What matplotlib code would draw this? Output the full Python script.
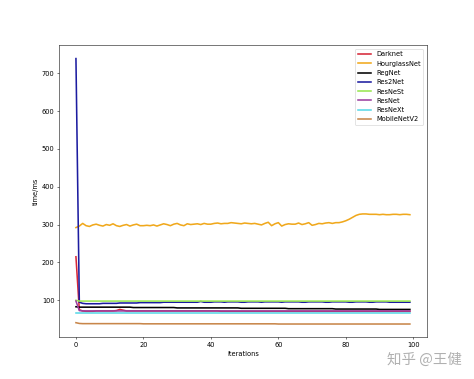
import matplotlib
matplotlib.use("Agg")
import matplotlib.pyplot as plt
import numpy as np

iterations = list(range(100))

darknet = [215, 75, 72, 71, 71, 71, 72, 72, 72, 72,
           72, 72, 73, 76, 74, 72, 72, 72, 72, 72,
           72, 72, 72, 72, 72, 72, 72, 72, 72, 72,
           72, 72, 72, 72, 72, 72, 72, 72, 72, 72,
           72, 72, 72, 71, 71, 71, 71, 71, 71, 71,
           71, 71, 71, 71, 71, 71, 71, 71, 71, 71,
           71, 71, 71, 71, 71, 71, 71, 71, 71, 71,
           71, 71, 71, 71, 71, 71, 71, 71, 71, 71,
           71, 71, 71, 71, 71, 71, 71, 71, 71, 71,
           71, 71, 71, 71, 71, 71, 71, 71, 71, 71]

hourglass = [292, 296, 303, 297, 295, 299, 301, 298, 296, 300,
             298, 302, 297, 295, 298, 300, 296, 299, 301, 297,
             297, 298, 297, 299, 296, 299, 302, 300, 297, 301,
             303, 299, 297, 302, 300, 301, 302, 300, 303, 301,
             301, 303, 304, 302, 303, 303, 305, 304, 303, 302,
             304, 303, 302, 303, 301, 299, 303, 306, 297, 302,
             305, 296, 300, 302, 301, 301, 304, 300, 302, 305,
             298, 300, 303, 302, 304, 305, 303, 305, 305, 307,
             310, 314, 319, 324, 327, 328, 328, 327, 327, 327,
             326, 327, 326, 326, 327, 327, 326, 327, 327, 326]

regnet = [83, 82, 82, 82, 82, 82, 82, 82, 82, 82,
          82, 82, 82, 82, 82, 82, 82, 81, 81, 81,
          81, 81, 81, 81, 81, 81, 81, 81, 81, 81,
          80, 80, 80, 80, 80, 80, 80, 80, 80, 80,
          80, 80, 80, 80, 80, 80, 80, 80, 80, 79,
          79, 79, 79, 79, 79, 79, 79, 79, 79, 79,
          79, 79, 79, 78, 78, 78, 78, 78, 78, 78,
          78, 78, 78, 78, 78, 78, 78, 77, 77, 77,
          77, 77, 77, 77, 77, 77, 77, 77, 77, 77,
          76, 76, 76, 76, 76, 76, 76, 76, 76, 76]

res2net = [738, 95, 92, 91, 91, 91, 91, 91, 92, 92,
           92, 92, 92, 93, 93, 93, 93, 93, 93, 94,
           94, 94, 94, 94, 94, 94, 95, 95, 95, 95,
           95, 95, 95, 95, 95, 95, 95, 97, 95, 95,
           95, 96, 96, 96, 95, 96, 96, 96, 96, 95,
           95, 96, 96, 96, 96, 95, 96, 96, 96, 96,
           96, 95, 96, 96, 96, 96, 96, 95, 95, 96,
           96, 96, 96, 96, 95, 95, 96, 96, 96, 96,
           96, 95, 95, 96, 96, 96, 96, 95, 95, 96,
           96, 96, 96, 95, 95, 95, 95, 95, 95, 95]

resnest = [100, 98, 98, 98, 98, 98, 98, 98, 98, 98,
           98, 98, 98, 98, 98, 98, 98, 98, 98, 98,
           98, 98, 98, 98, 98, 98, 98, 98, 98, 98,
           98, 98, 98, 98, 98, 98, 98, 98, 98, 98,
           98, 98, 98, 98, 98, 98, 98, 98, 98, 98,
           98, 98, 98, 98, 98, 98, 98, 98, 98, 98,
           98, 98, 98, 98, 98, 98, 98, 98, 98, 98,
           98, 98, 98, 98, 98, 98, 98, 98, 98, 98,
           98, 98, 98, 98, 98, 98, 98, 98, 98, 98,
           98, 98, 98, 98, 98, 98, 98, 98, 98, 98]

resnet = [98, 73, 72, 72, 72, 72, 72, 72, 72, 72,
          72, 72, 72, 72, 72, 72, 72, 72, 72, 72,
          72, 72, 72, 72, 72, 72, 72, 72, 72, 72,
          72, 72, 72, 72, 72, 72, 72, 72, 72, 72,
          72, 72, 72, 72, 72, 72, 72, 72, 72, 72,
          72, 72, 72, 72, 72, 72, 72, 72, 72, 72,
          72, 72, 72, 72, 72, 72, 72, 72, 72, 72,
          72, 72, 72, 72, 72, 72, 72, 72, 72, 72,
          72, 72, 72, 72, 72, 72, 72, 72, 72, 72,
          72, 72, 72, 72, 72, 72, 72, 72, 72, 72]

resnext = [66, 66, 66, 66, 66, 66, 66, 66, 66, 66,
           66, 66, 66, 66, 66, 66, 66, 66, 66, 66,
           66, 66, 66, 66, 66, 66, 66, 66, 66, 66,
           66, 66, 66, 66, 66, 66, 66, 66, 66, 66,
           66, 66, 66, 66, 66, 66, 66, 66, 66, 66,
           66, 66, 66, 66, 66, 66, 66, 66, 66, 66,
           66, 66, 66, 66, 66, 66, 66, 66, 66, 66,
           66, 66, 66, 66, 66, 66, 66, 66, 66, 66,
           66, 66, 66, 66, 66, 66, 66, 66, 66, 66,
           66, 66, 66, 66, 66, 66, 66, 66, 66, 66]

mobilenet = [41, 39, 38.5, 38.5, 38.5, 38.5, 38.5, 38.5, 38.5, 38.5,
             38.5, 38.5, 38.5, 38.5, 38.5, 38.5, 38.5, 38.5, 38.5, 38.5,
             38, 38, 38, 38, 38, 38, 38, 38, 38, 38,
             38, 38, 38, 38, 38, 38, 38, 38, 38, 38,
             38, 38, 38, 38, 38, 38, 38, 38, 38, 38,
             38, 38, 38, 38, 38, 38, 38, 38, 38, 38,
             37.5, 37.5, 37.5, 37.5, 37.5, 37.5, 37.5, 37.5, 37.5, 37.5,
             37.5, 37.5, 37.5, 37.5, 37.5, 37.5, 37.5, 37.5, 37.5, 37.5,
             37.5, 37.5, 37.5, 37.5, 37.5, 37.5, 37.5, 37.5, 37.5, 37.5,
             37.5, 37.5, 37.5, 37.5, 37.5, 37.5, 37.5, 37.5, 37.5, 37.5]

names = ["Darknet", "HourglassNet", "RegNet", "Res2Net", "ResNeSt",
         "ResNet", "ResNeXt", "MobileNetV2"]
series = [darknet, hourglass, regnet, res2net, resnest, resnet, resnext, mobilenet]
colors = ["#d62738", "#f0a81c", "#000000", "#1c1ca0", "#98e650",
          "#9b3fa0", "#5ad8e6", "#c8864a"]

fig = plt.figure(figsize=(10, 8), dpi=47.4)
ax = fig.add_subplot(111)
for name, vals, c in zip(names, series, colors):
    ax.plot(iterations, vals, color=c, lw=2.4, label=name)

ax.set_xlabel("iterations")
ax.set_ylabel("time/ms")
ax.legend(loc="upper right")

fig.text(0.975, 0.05, "知乎 @王健", ha="right", va="center", fontsize=22,
         color="#b0b0b0", family=["Noto Sans CJK SC", "DejaVu Sans"])

fig.savefig("out.png", dpi=47.4)
